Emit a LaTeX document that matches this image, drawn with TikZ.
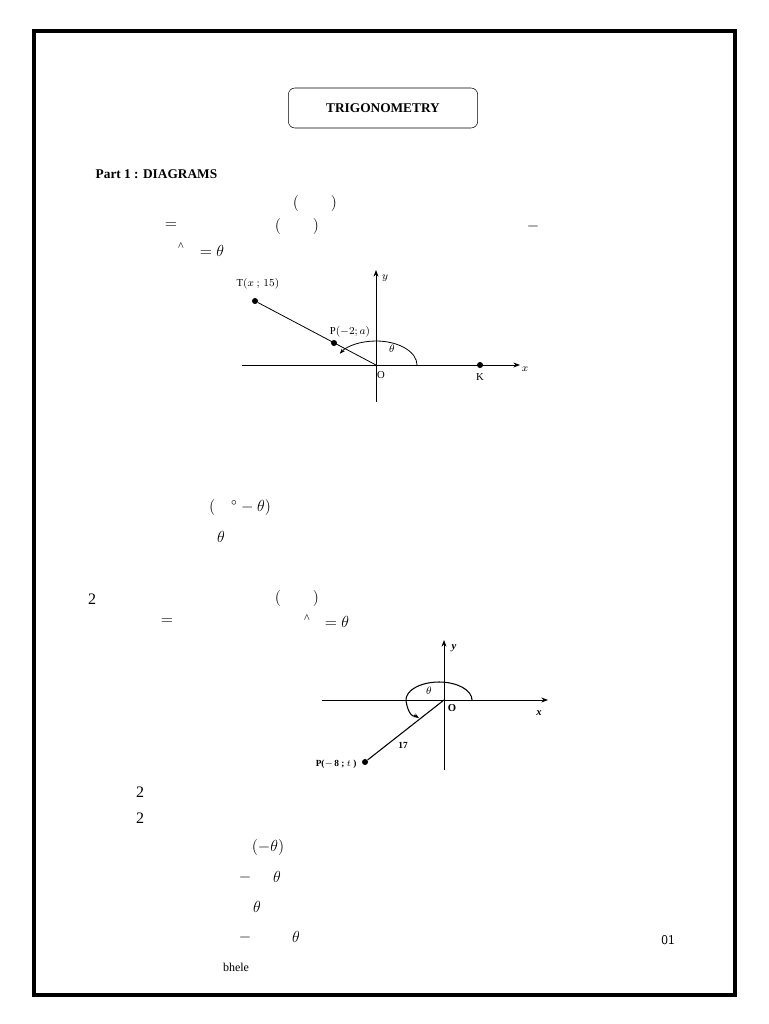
\documentclass[tikz,border=0pt]{standalone}
\usepackage{fontspec}
\setmainfont{Liberation Serif}
\usetikzlibrary{arrows.meta}
\begin{document}
\begin{tikzpicture}[x=0.75pt,y=-0.75pt,
  ax/.style={line width=0.6pt,-{Stealth[length=5pt]}},
  dot/.style={circle,fill,inner sep=1.6pt},
  lbl/.style={font=\footnotesize, inner sep=1pt},
  mt/.style={font=\large, inner sep=0pt}]
\useasboundingbox (0,0) rectangle (768,1024);
\draw[line width=2.5pt] (34,31) rectangle (735,995);
\node[draw,rounded corners=5pt,minimum width=142pt,minimum height=30pt,font=\bfseries] (title) at (383,108) {TRIGONOMETRY};
\node[font=\bfseries,anchor=west] (part) at (91,174) {Part 1 : DIAGRAMS};
\node[mt] (f1) at (315,203) {$(\qquad)$};
\node[mt] (f2) at (171,226) {$=$};
\node[mt] (f3) at (297,226) {$(\qquad)$};
\node[mt] (f4) at (533,226) {$-$};
\node[mt,font=\small] (f5) at (181,247) {\^{}};
\node[mt] (f6) at (212,251) {$=\theta$};
\node[mt] (f7) at (240,507) {$(\quad{}^\circ-\theta)$};
\node[mt] (f8) at (221,537) {$\theta$};
\node[mt] (f9) at (92,599) {2};
\node[mt] (f10) at (297,598) {$(\qquad)$};
\node[mt] (f11) at (167,622) {$=$};
\node[mt,font=\small] (f12) at (307,619) {\^{}};
\node[mt] (f13) at (337,622) {$=\theta$};
\node[mt] (f14) at (140,792) {2};
\node[mt] (f15) at (140,818) {2};
\node[mt] (f16) at (268,847) {$(-\theta)$};
\node[mt] (f17) at (245,877) {$-$};
\node[mt] (f18) at (277,877) {$\theta$};
\node[mt] (f19) at (257,907) {$\theta$};
\node[mt] (f20) at (245,937) {$-$};
\node[mt] (f21) at (296,937) {$\theta$};
\node[font=\small] (bh) at (236,967) {bhele};
\node[font=\sffamily] (pg) at (668,940) {01};
\coordinate (O1) at (376,365);
\coordinate (y1b) at (376,402); \coordinate (y1t) at (376,270);
\coordinate (x1l) at (242,365); \coordinate (x1r) at (520,365);
\draw[ax] (y1b) -- (y1t);
\draw[ax] (x1l) -- (x1r);
\node[lbl] (ylab1) at (385,278) {$y$};
\node[lbl] (xlab1) at (525,369) {$x$};
\node[dot] (T) at (255,301) {};
\node[dot] (P) at (334,343) {};
\node[dot] (K) at (480,365) {};
\draw[line width=0.6pt] (T) -- (O1);
\node[lbl,anchor=south west] at (235,291) {T$(x\ ;\,15)$};
\node[lbl] at (350,332) {P$(-2;a)$};
\node[lbl] at (381,375) {O};
\node[lbl] at (480,377) {K};
\node[lbl] at (392,349) {$\theta$};
\draw[line width=0.6pt,-{Stealth[length=4pt]}] (417,365) arc[start angle=0,end angle=-152,x radius=41,y radius=24];
\coordinate (O2) at (444,700);
\coordinate (y2b) at (444,770); \coordinate (y2t) at (444,640);
\coordinate (x2l) at (322,700); \coordinate (x2r) at (548,700);
\draw[ax] (y2b) -- (y2t);
\draw[ax] (x2l) -- (x2r);
\node[lbl,font=\footnotesize\bfseries\itshape] at (454,648) {y};
\node[lbl,font=\footnotesize\bfseries\itshape] at (539,713) {x};
\node[dot] (P2) at (365,762) {};
\draw[line width=0.8pt] (P2) -- (O2);
\node[lbl,font=\scriptsize\bfseries,anchor=east] at (358,764) {P($-$\,8 ; $t$ )};
\node[lbl,font=\scriptsize\bfseries] at (403,745) {17};
\node[lbl,font=\footnotesize\bfseries] at (452,708) {O};
\node[lbl,font=\footnotesize\bfseries\itshape] at (429,691) {$\theta$};
\draw[line width=0.8pt] (472,700) arc[start angle=0,end angle=-185,x radius=33,y radius=18]
  to[out=-80,in=200] (417,716);
\draw[line width=0.8pt,-{Stealth[length=4pt]}] (414,715) -- (419,718);
\end{tikzpicture}
\end{document}
